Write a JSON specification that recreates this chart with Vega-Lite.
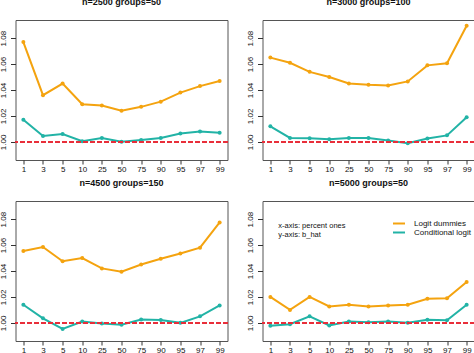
{
  "$schema": "https://vega.github.io/schema/vega-lite/v6.json",
  "autosize": {"type": "pad"},
  "padding": {"left": -1.5, "top": -3, "right": 0, "bottom": 0},
  "background": "white",
  "config": {
    "font": "Liberation Sans",
    "view": {"stroke": "#555555", "strokeWidth": 1},
    "axis": {"grid": false, "domain": false, "tickColor": "#333333", "labelFontSize": 8, "labelColor": "#111111", "labelFont": "Liberation Sans"},
    "axisX": {"tickSize": 4, "labelPadding": 1},
    "axisY": {"tickSize": 5, "labelPadding": 3}
  },
  "data": {
    "values": [
      {"panel": "n=2500 groups=50", "method": "Logit dummies", "pct": 1, "b_hat": 1.077},
      {"panel": "n=2500 groups=50", "method": "Logit dummies", "pct": 3, "b_hat": 1.036},
      {"panel": "n=2500 groups=50", "method": "Logit dummies", "pct": 5, "b_hat": 1.045},
      {"panel": "n=2500 groups=50", "method": "Logit dummies", "pct": 10, "b_hat": 1.029},
      {"panel": "n=2500 groups=50", "method": "Logit dummies", "pct": 25, "b_hat": 1.028},
      {"panel": "n=2500 groups=50", "method": "Logit dummies", "pct": 50, "b_hat": 1.024},
      {"panel": "n=2500 groups=50", "method": "Logit dummies", "pct": 75, "b_hat": 1.027},
      {"panel": "n=2500 groups=50", "method": "Logit dummies", "pct": 90, "b_hat": 1.031},
      {"panel": "n=2500 groups=50", "method": "Logit dummies", "pct": 95, "b_hat": 1.038},
      {"panel": "n=2500 groups=50", "method": "Logit dummies", "pct": 97, "b_hat": 1.043},
      {"panel": "n=2500 groups=50", "method": "Logit dummies", "pct": 99, "b_hat": 1.047},
      {"panel": "n=2500 groups=50", "method": "Conditional logit", "pct": 1, "b_hat": 1.017},
      {"panel": "n=2500 groups=50", "method": "Conditional logit", "pct": 3, "b_hat": 1.0045},
      {"panel": "n=2500 groups=50", "method": "Conditional logit", "pct": 5, "b_hat": 1.006},
      {"panel": "n=2500 groups=50", "method": "Conditional logit", "pct": 10, "b_hat": 1.0005},
      {"panel": "n=2500 groups=50", "method": "Conditional logit", "pct": 25, "b_hat": 1.003},
      {"panel": "n=2500 groups=50", "method": "Conditional logit", "pct": 50, "b_hat": 1.0},
      {"panel": "n=2500 groups=50", "method": "Conditional logit", "pct": 75, "b_hat": 1.0015},
      {"panel": "n=2500 groups=50", "method": "Conditional logit", "pct": 90, "b_hat": 1.003},
      {"panel": "n=2500 groups=50", "method": "Conditional logit", "pct": 95, "b_hat": 1.0065},
      {"panel": "n=2500 groups=50", "method": "Conditional logit", "pct": 97, "b_hat": 1.008},
      {"panel": "n=2500 groups=50", "method": "Conditional logit", "pct": 99, "b_hat": 1.007},
      {"panel": "n=3000 groups=100", "method": "Logit dummies", "pct": 1, "b_hat": 1.065},
      {"panel": "n=3000 groups=100", "method": "Logit dummies", "pct": 3, "b_hat": 1.061},
      {"panel": "n=3000 groups=100", "method": "Logit dummies", "pct": 5, "b_hat": 1.054},
      {"panel": "n=3000 groups=100", "method": "Logit dummies", "pct": 10, "b_hat": 1.05},
      {"panel": "n=3000 groups=100", "method": "Logit dummies", "pct": 25, "b_hat": 1.045},
      {"panel": "n=3000 groups=100", "method": "Logit dummies", "pct": 50, "b_hat": 1.044},
      {"panel": "n=3000 groups=100", "method": "Logit dummies", "pct": 75, "b_hat": 1.0435},
      {"panel": "n=3000 groups=100", "method": "Logit dummies", "pct": 90, "b_hat": 1.0466},
      {"panel": "n=3000 groups=100", "method": "Logit dummies", "pct": 95, "b_hat": 1.059},
      {"panel": "n=3000 groups=100", "method": "Logit dummies", "pct": 97, "b_hat": 1.0606},
      {"panel": "n=3000 groups=100", "method": "Logit dummies", "pct": 99, "b_hat": 1.0896},
      {"panel": "n=3000 groups=100", "method": "Conditional logit", "pct": 1, "b_hat": 1.012},
      {"panel": "n=3000 groups=100", "method": "Conditional logit", "pct": 3, "b_hat": 1.003},
      {"panel": "n=3000 groups=100", "method": "Conditional logit", "pct": 5, "b_hat": 1.0028},
      {"panel": "n=3000 groups=100", "method": "Conditional logit", "pct": 10, "b_hat": 1.002},
      {"panel": "n=3000 groups=100", "method": "Conditional logit", "pct": 25, "b_hat": 1.003},
      {"panel": "n=3000 groups=100", "method": "Conditional logit", "pct": 50, "b_hat": 1.003},
      {"panel": "n=3000 groups=100", "method": "Conditional logit", "pct": 75, "b_hat": 1.001},
      {"panel": "n=3000 groups=100", "method": "Conditional logit", "pct": 90, "b_hat": 0.999},
      {"panel": "n=3000 groups=100", "method": "Conditional logit", "pct": 95, "b_hat": 1.0026},
      {"panel": "n=3000 groups=100", "method": "Conditional logit", "pct": 97, "b_hat": 1.005},
      {"panel": "n=3000 groups=100", "method": "Conditional logit", "pct": 99, "b_hat": 1.019},
      {"panel": "n=4500 groups=150", "method": "Logit dummies", "pct": 1, "b_hat": 1.0555},
      {"panel": "n=4500 groups=150", "method": "Logit dummies", "pct": 3, "b_hat": 1.0585},
      {"panel": "n=4500 groups=150", "method": "Logit dummies", "pct": 5, "b_hat": 1.0475},
      {"panel": "n=4500 groups=150", "method": "Logit dummies", "pct": 10, "b_hat": 1.050},
      {"panel": "n=4500 groups=150", "method": "Logit dummies", "pct": 25, "b_hat": 1.042},
      {"panel": "n=4500 groups=150", "method": "Logit dummies", "pct": 50, "b_hat": 1.0395},
      {"panel": "n=4500 groups=150", "method": "Logit dummies", "pct": 75, "b_hat": 1.045},
      {"panel": "n=4500 groups=150", "method": "Logit dummies", "pct": 90, "b_hat": 1.0495},
      {"panel": "n=4500 groups=150", "method": "Logit dummies", "pct": 95, "b_hat": 1.0535},
      {"panel": "n=4500 groups=150", "method": "Logit dummies", "pct": 97, "b_hat": 1.058},
      {"panel": "n=4500 groups=150", "method": "Logit dummies", "pct": 99, "b_hat": 1.0775},
      {"panel": "n=4500 groups=150", "method": "Conditional logit", "pct": 1, "b_hat": 1.014},
      {"panel": "n=4500 groups=150", "method": "Conditional logit", "pct": 3, "b_hat": 1.0035},
      {"panel": "n=4500 groups=150", "method": "Conditional logit", "pct": 5, "b_hat": 0.9953},
      {"panel": "n=4500 groups=150", "method": "Conditional logit", "pct": 10, "b_hat": 1.001},
      {"panel": "n=4500 groups=150", "method": "Conditional logit", "pct": 25, "b_hat": 0.9995},
      {"panel": "n=4500 groups=150", "method": "Conditional logit", "pct": 50, "b_hat": 0.9985},
      {"panel": "n=4500 groups=150", "method": "Conditional logit", "pct": 75, "b_hat": 1.0025},
      {"panel": "n=4500 groups=150", "method": "Conditional logit", "pct": 90, "b_hat": 1.0022},
      {"panel": "n=4500 groups=150", "method": "Conditional logit", "pct": 95, "b_hat": 1.0},
      {"panel": "n=4500 groups=150", "method": "Conditional logit", "pct": 97, "b_hat": 1.005},
      {"panel": "n=4500 groups=150", "method": "Conditional logit", "pct": 99, "b_hat": 1.0134},
      {"panel": "n=5000 groups=50", "method": "Logit dummies", "pct": 1, "b_hat": 1.020},
      {"panel": "n=5000 groups=50", "method": "Logit dummies", "pct": 3, "b_hat": 1.010},
      {"panel": "n=5000 groups=50", "method": "Logit dummies", "pct": 5, "b_hat": 1.020},
      {"panel": "n=5000 groups=50", "method": "Logit dummies", "pct": 10, "b_hat": 1.0126},
      {"panel": "n=5000 groups=50", "method": "Logit dummies", "pct": 25, "b_hat": 1.014},
      {"panel": "n=5000 groups=50", "method": "Logit dummies", "pct": 50, "b_hat": 1.0126},
      {"panel": "n=5000 groups=50", "method": "Logit dummies", "pct": 75, "b_hat": 1.0134},
      {"panel": "n=5000 groups=50", "method": "Logit dummies", "pct": 90, "b_hat": 1.014},
      {"panel": "n=5000 groups=50", "method": "Logit dummies", "pct": 95, "b_hat": 1.0186},
      {"panel": "n=5000 groups=50", "method": "Logit dummies", "pct": 97, "b_hat": 1.019},
      {"panel": "n=5000 groups=50", "method": "Logit dummies", "pct": 99, "b_hat": 1.0315},
      {"panel": "n=5000 groups=50", "method": "Conditional logit", "pct": 1, "b_hat": 0.9977},
      {"panel": "n=5000 groups=50", "method": "Conditional logit", "pct": 3, "b_hat": 0.999},
      {"panel": "n=5000 groups=50", "method": "Conditional logit", "pct": 5, "b_hat": 1.005},
      {"panel": "n=5000 groups=50", "method": "Conditional logit", "pct": 10, "b_hat": 0.998},
      {"panel": "n=5000 groups=50", "method": "Conditional logit", "pct": 25, "b_hat": 1.001},
      {"panel": "n=5000 groups=50", "method": "Conditional logit", "pct": 50, "b_hat": 1.0005},
      {"panel": "n=5000 groups=50", "method": "Conditional logit", "pct": 75, "b_hat": 1.001},
      {"panel": "n=5000 groups=50", "method": "Conditional logit", "pct": 90, "b_hat": 1.0},
      {"panel": "n=5000 groups=50", "method": "Conditional logit", "pct": 95, "b_hat": 1.0023},
      {"panel": "n=5000 groups=50", "method": "Conditional logit", "pct": 97, "b_hat": 1.002},
      {"panel": "n=5000 groups=50", "method": "Conditional logit", "pct": 99, "b_hat": 1.014}
    ]
  },
  "facet": {
    "field": "panel",
    "type": "nominal",
    "sort": ["n=2500 groups=50", "n=3000 groups=100", "n=4500 groups=150", "n=5000 groups=50"],
    "header": {"title": null, "labelFontSize": 9, "labelFontWeight": "bold", "labelColor": "#111111", "labelFont": "Liberation Sans", "labelPadding": 13}
  },
  "columns": 2,
  "spacing": {"column": 17, "row": 4},
  "resolve": {"axis": {"x": "independent", "y": "independent"}},
  "spec": {
    "width": 212,
    "height": 140,
    "layer": [
      {
        "mark": {"type": "line", "strokeWidth": 2, "point": {"filled": true, "size": 16}},
        "encoding": {
          "x": {"field": "pct", "type": "ordinal", "title": null, "scale": {"type": "point", "padding": 0.4}, "axis": {"labelAngle": 0}},
          "y": {"field": "b_hat", "type": "quantitative", "title": null, "scale": {"domain": [0.986, 1.094], "nice": false, "zero": false}, "axis": {"values": [1.0, 1.02, 1.04, 1.06, 1.08], "format": ".2f", "labelAngle": -90, "labelOverlap": false}},
          "color": {
            "field": "method", "type": "nominal",
            "scale": {"domain": ["Logit dummies", "Conditional logit"], "range": ["#f4a30f", "#22b3a6"]},
            "legend": {"title": null, "orient": "none", "legendX": 376.5, "legendY": 199, "symbolType": "stroke", "symbolStrokeWidth": 2, "symbolSize": 144, "clipHeight": 9, "labelFontSize": 8, "labelFont": "Liberation Sans", "labelColor": "#111111", "rowPadding": 0, "labelOffset": 8}
          }
        }
      },
      {
        "mark": {"type": "rule", "color": "#e8303a", "strokeDash": [4, 3], "strokeWidth": 1},
        "encoding": {"y": {"datum": 1.0, "type": "quantitative", "title": null, "scale": {"domain": [0.986, 1.094], "nice": false, "zero": false}, "axis": {"values": [1.0, 1.02, 1.04, 1.06, 1.08], "format": ".2f", "labelAngle": -90, "labelOverlap": false}}}
      },
      {
        "transform": [{"filter": "datum.panel == 'n=5000 groups=50' && datum.pct == 1 && datum.method == 'Logit dummies'"}],
        "mark": {"type": "text", "align": "left", "baseline": "middle", "dx": 8, "fontSize": 7.5, "lineHeight": 9, "color": "#111111", "font": "Liberation Sans"},
        "encoding": {
          "x": {"field": "pct", "type": "ordinal", "title": null, "scale": {"type": "point", "padding": 0.4}, "axis": {"labelAngle": 0}},
          "y": {"datum": 1.0747, "type": "quantitative", "title": null, "scale": {"domain": [0.986, 1.094], "nice": false, "zero": false}, "axis": {"values": [1.0, 1.02, 1.04, 1.06, 1.08], "format": ".2f", "labelAngle": -90, "labelOverlap": false}},
          "text": {"value": ["x-axis: percent ones", "y-axis: b_hat"]}
        }
      }
    ]
  }
}
